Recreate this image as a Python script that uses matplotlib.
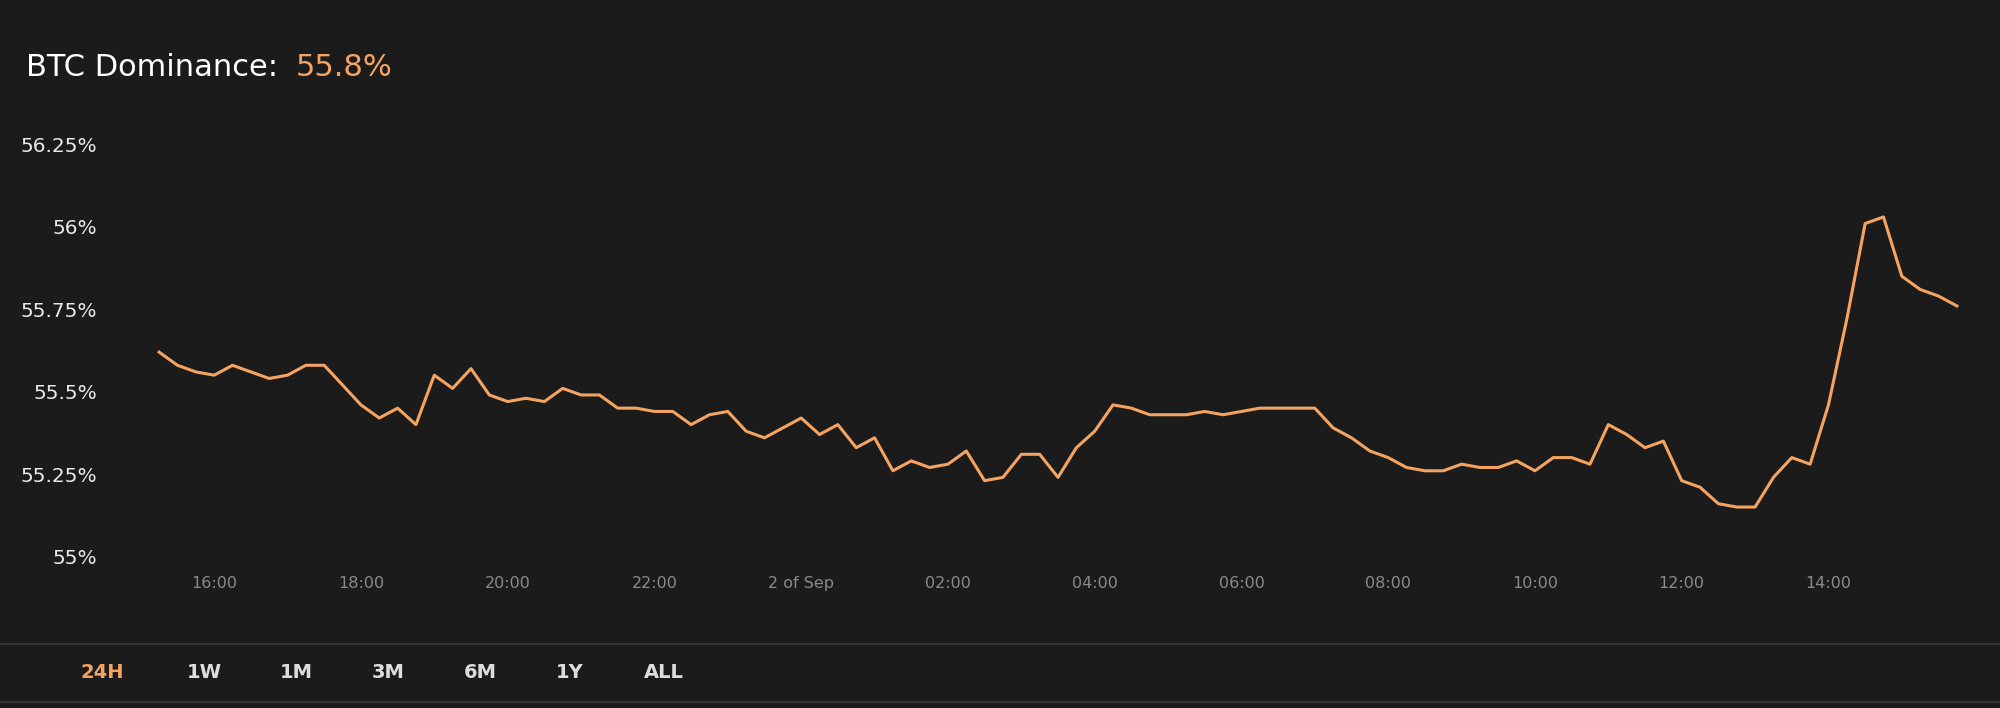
import matplotlib
matplotlib.use("Agg")
import matplotlib.pyplot as plt
import pandas as pd

values = [55.62, 55.58, 55.56, 55.55, 55.58, 55.56, 55.54, 55.55, 55.58, 55.58,
          55.52, 55.46, 55.42, 55.45, 55.40, 55.55, 55.51, 55.57, 55.49, 55.47,
          55.48, 55.47, 55.51, 55.49, 55.49, 55.45, 55.45, 55.44, 55.44, 55.40,
          55.43, 55.44, 55.38, 55.36, 55.39, 55.42, 55.37, 55.40, 55.33, 55.36,
          55.26, 55.29, 55.27, 55.28, 55.32, 55.23, 55.24, 55.31, 55.31, 55.24,
          55.33, 55.38, 55.46, 55.45, 55.43, 55.43, 55.43, 55.44, 55.43, 55.44,
          55.45, 55.45, 55.45, 55.45, 55.39, 55.36, 55.32, 55.30, 55.27, 55.26,
          55.26, 55.28, 55.27, 55.27, 55.29, 55.26, 55.30, 55.30, 55.28, 55.40,
          55.37, 55.33, 55.35, 55.23, 55.21, 55.16, 55.15, 55.15, 55.24, 55.30,
          55.28, 55.46, 55.72, 56.01, 56.03, 55.85, 55.81, 55.79, 55.76]
times = pd.date_range("2023-09-01 15:15", periods=len(values), freq="15min")

tick_times = pd.to_datetime(["2023-09-01 16:00", "2023-09-01 18:00", "2023-09-01 20:00",
                             "2023-09-01 22:00", "2023-09-02 00:00", "2023-09-02 02:00",
                             "2023-09-02 04:00", "2023-09-02 06:00", "2023-09-02 08:00",
                             "2023-09-02 10:00", "2023-09-02 12:00", "2023-09-02 14:00"])
tick_labels = ["16:00", "18:00", "20:00", "22:00", "2 of Sep", "02:00", "04:00",
               "06:00", "08:00", "10:00", "12:00", "14:00"]
y_ticks = [55.0, 55.25, 55.5, 55.75, 56.0, 56.25]
y_labels = ["55%", "55.25%", "55.5%", "55.75%", "56%", "56.25%"]
buttons = ["24H", "1W", "1M", "3M", "6M", "1Y", "ALL"]

BG = "#1b1b1b"
ORANGE = "#f4a460"

fig = plt.figure(figsize=(20, 7.08), dpi=100, facecolor=BG)
ax = fig.add_axes([0.0765, 0.214, 0.905, 0.582], facecolor=BG)
ax.plot(times, values, color=ORANGE, lw=2.2)
ax.set_ylim(55.0, 56.25)
ax.set_xlim(times[0] - pd.Timedelta("5min"), times[-1] + pd.Timedelta("5min"))
ax.set_yticks(y_ticks)
ax.set_yticklabels(y_labels, color="#e8e8e8", fontsize=14.5)
ax.set_xticks(tick_times)
ax.set_xticklabels(tick_labels, color="#8a8a8a", fontsize=11.5)
ax.tick_params(axis="y", length=0, pad=40)
ax.tick_params(axis="x", length=0, pad=14)
for s in ax.spines.values():
    s.set_visible(False)

fig.text(0.013, 0.905, "BTC Dominance: ", color="white", fontsize=22, va="center")
fig.text(0.148, 0.905, "55.8%", color=ORANGE, fontsize=22, va="center")

fig.add_artist(plt.Line2D([0.0, 1.0], [0.09, 0.09], color="#3a3a3a", lw=1.2))
fig.add_artist(plt.Line2D([0.0, 1.0], [0.008, 0.008], color="#3a3a3a", lw=1.2))
bx = [0.051, 0.102, 0.148, 0.194, 0.240, 0.285, 0.332]
for x, b in zip(bx, buttons):
    fig.text(x, 0.05, b, color=ORANGE if b == "24H" else "#dddddd",
             fontsize=14, fontweight="bold", ha="center", va="center")

fig.savefig("out.png", facecolor=BG)
